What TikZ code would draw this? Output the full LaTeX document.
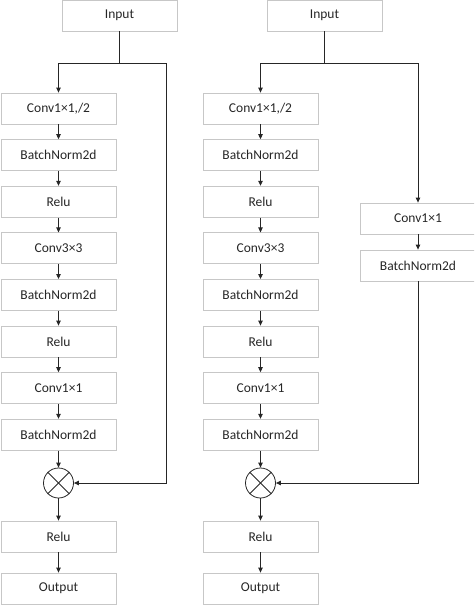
\documentclass[tikz,border=0pt]{standalone}
\usepackage{fontspec}
\setmainfont{Carlito}
\usetikzlibrary{arrows.meta}

\tikzstyle{layer}=[draw=black!22, line width=0.8, minimum width=115, minimum height=31, inner sep=0, font=\fontsize{13.5}{16}\selectfont, text=black!85]
\tikzstyle{addnode}=[circle, draw=black!85, line width=0.8, minimum size=30, inner sep=0]
\tikzstyle{flow}=[black!85, line width=0.8, -{Triangle[length=5, width=4.5]}]
\tikzstyle{plainflow}=[black!85, line width=0.8]
\newcommand{\drawstack}[2]{
  \node[layer] (#1A) at (#2,108.5) {Conv1×1,/2};
  \node[layer] (#1B) at (#2,155.1) {BatchNorm2d};
  \node[layer] (#1C) at (#2,201.7) {Relu};
  \node[layer] (#1D) at (#2,248.3) {Conv3×3};
  \node[layer] (#1E) at (#2,294.9) {BatchNorm2d};
  \node[layer] (#1F) at (#2,341.5) {Relu};
  \node[layer] (#1G) at (#2,388.1) {Conv1×1};
  \node[layer] (#1H) at (#2,434.7) {BatchNorm2d};
  \node[addnode] (#1add) at (#2,483) {};
  \draw[plainflow] (#1add.north west) -- (#1add.south east);
  \draw[plainflow] (#1add.north east) -- (#1add.south west);
  \node[layer] (#1relu) at (#2,536.5) {Relu};
  \node[layer] (#1out) at (#2,588.5) {Output};
  \draw[flow] (#1A) -- (#1B);
  \draw[flow] (#1B) -- (#1C);
  \draw[flow] (#1C) -- (#1D);
  \draw[flow] (#1D) -- (#1E);
  \draw[flow] (#1E) -- (#1F);
  \draw[flow] (#1F) -- (#1G);
  \draw[flow] (#1G) -- (#1H);
  \draw[flow] (#1H) -- (#1add);
  \draw[flow] (#1add) -- (#1relu);
  \draw[flow] (#1relu) -- (#1out);
}

\begin{document}
\begin{tikzpicture}[x=1pt, y=-1pt]
  \useasboundingbox (0,0) rectangle (474,605);
  \clip (0,0) rectangle (474,605);
  % plain block
  \node[layer] (inL) at (119.5,15.5) {Input};
  \drawstack{L}{58.5}
  \coordinate (splitL) at (119.5,63);
  \coordinate (skipL) at (166,483);
  \draw[plainflow] (inL) -- (splitL);
  \draw[flow] (splitL) -| (LA);
  \draw[flow] (splitL) -| (skipL) -- (Ladd);
  % downsampling block
  \node[layer] (inR) at (324.5,15.5) {Input};
  \drawstack{R}{260.5}
  \node[layer] (sconv) at (418,218.5) {Conv1×1};
  \node[layer] (sbn) at (418,265.5) {BatchNorm2d};
  \coordinate (splitR) at (324.5,63);
  \draw[plainflow] (inR) -- (splitR);
  \draw[flow] (splitR) -| (RA);
  \draw[flow] (splitR) -| (sconv);
  \draw[flow] (sconv) -- (sbn);
  \draw[flow] (sbn) |- (Radd);
\end{tikzpicture}
\end{document}
